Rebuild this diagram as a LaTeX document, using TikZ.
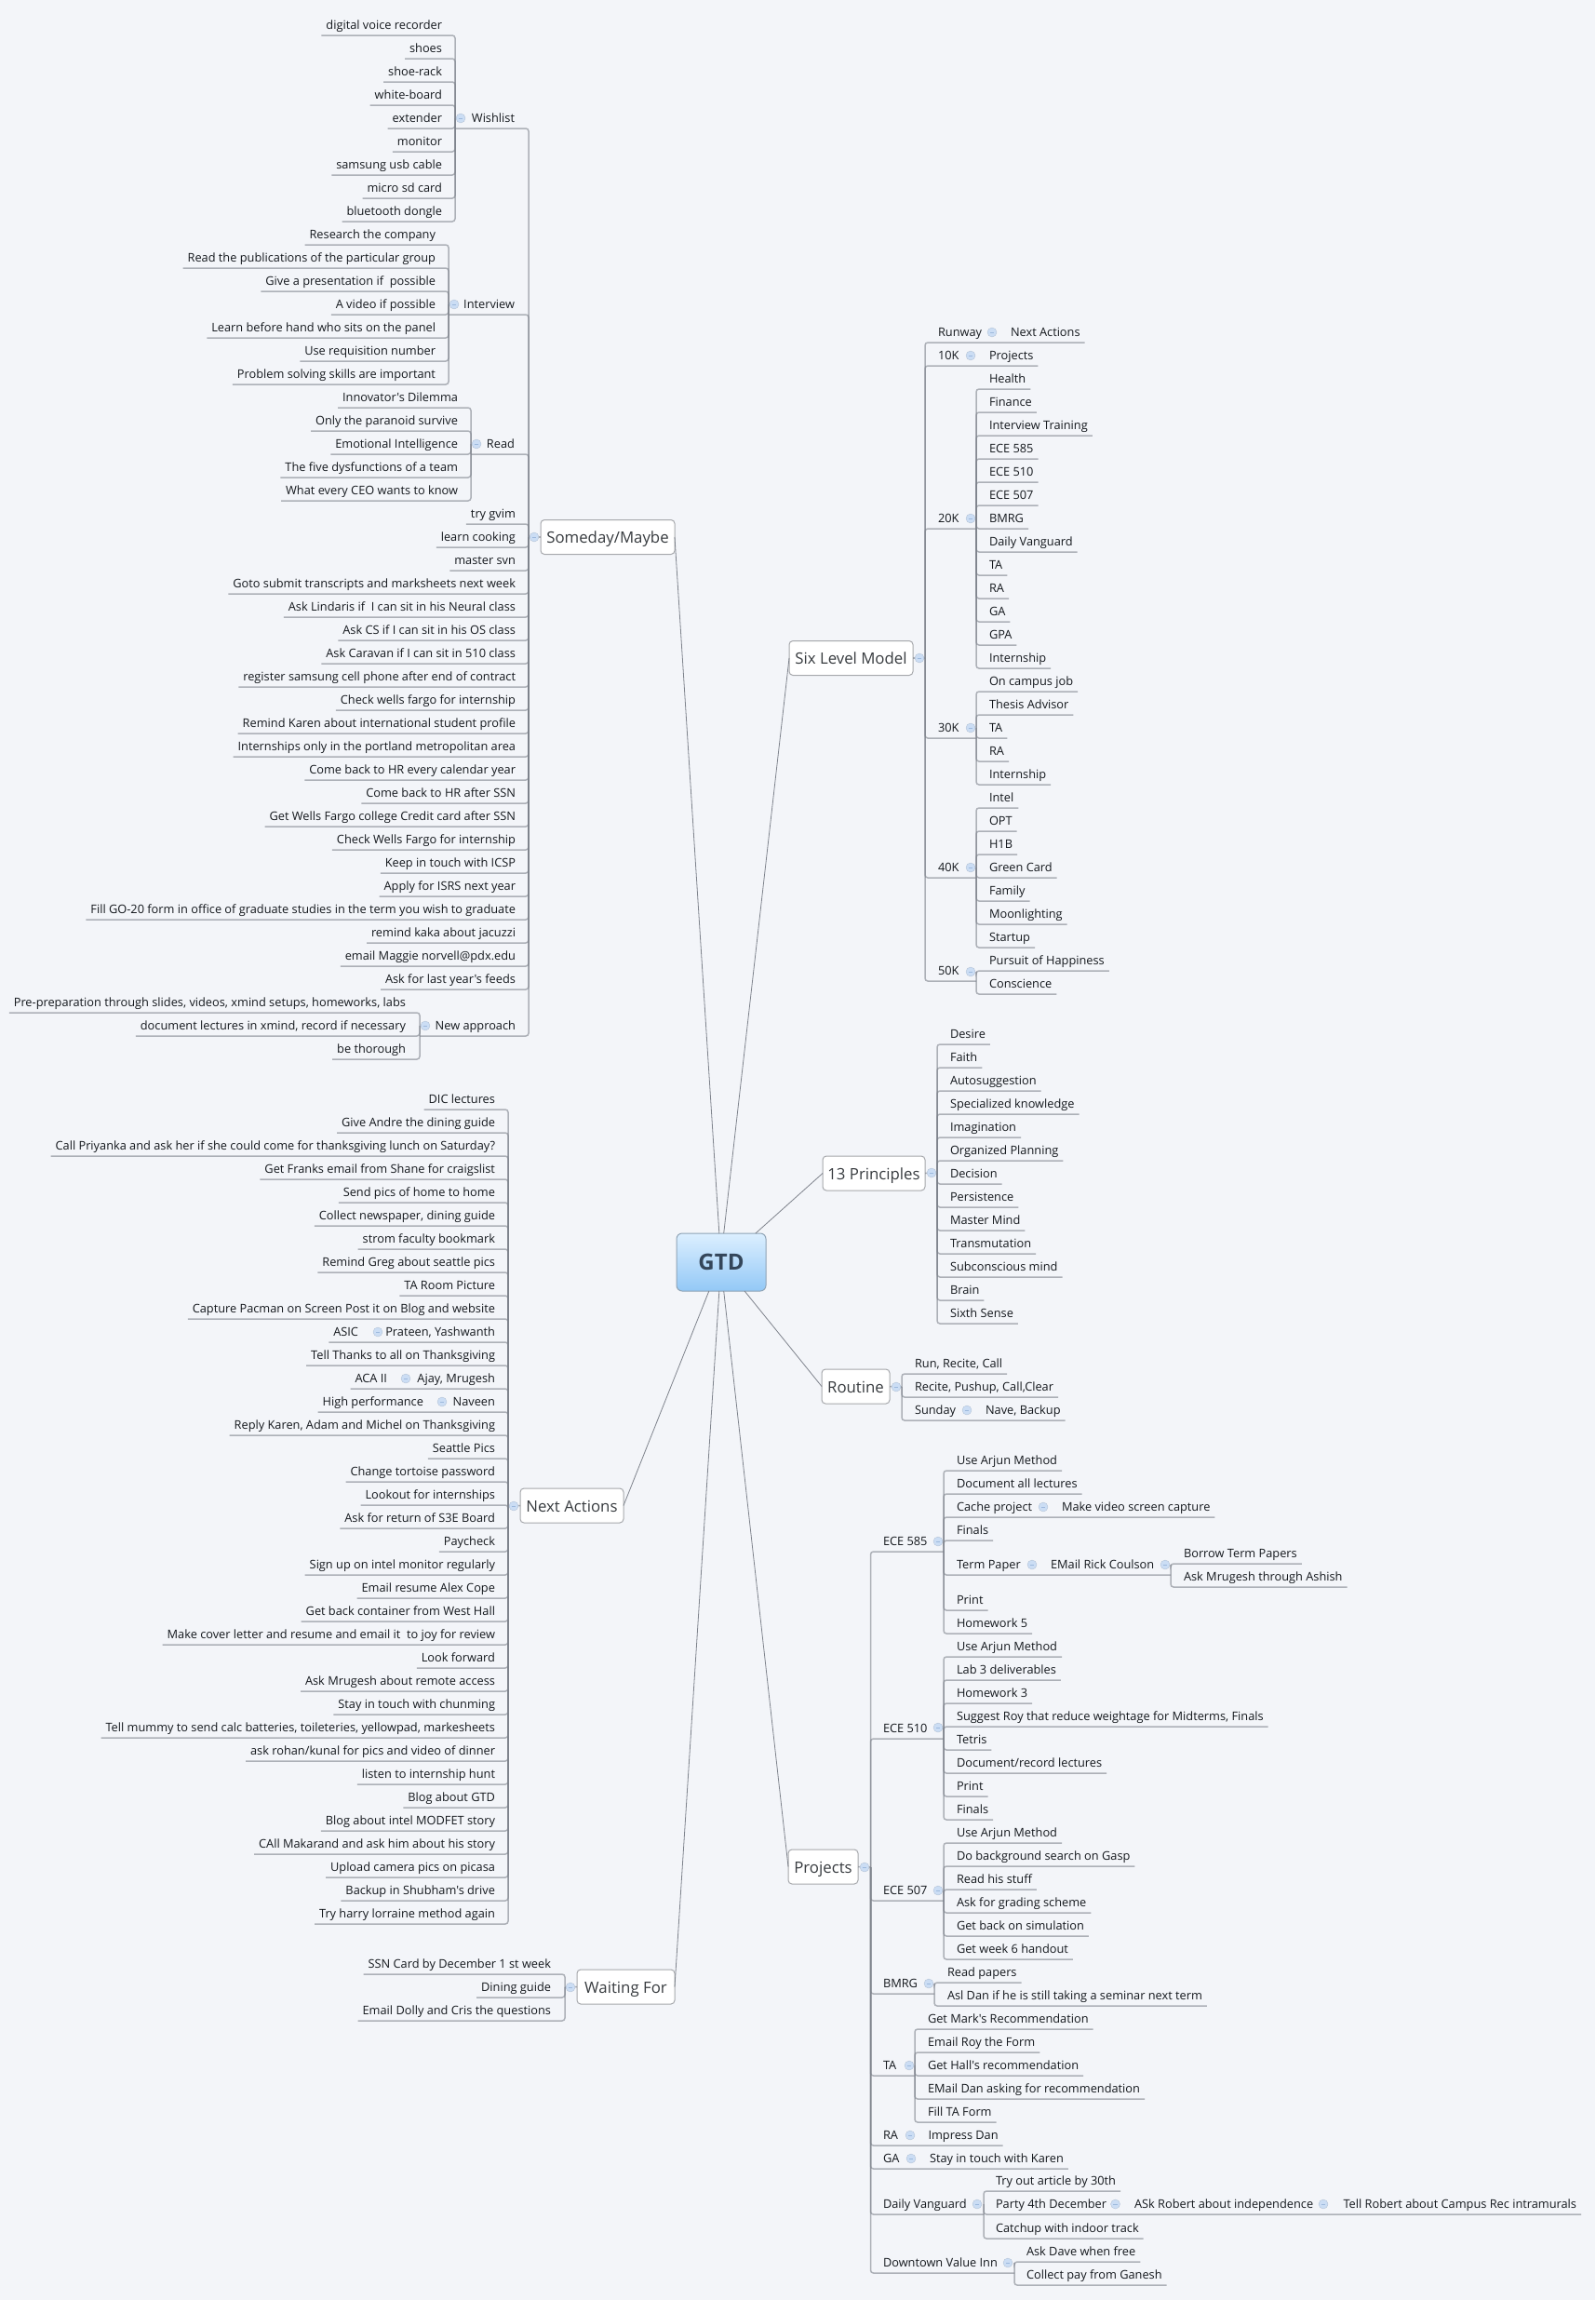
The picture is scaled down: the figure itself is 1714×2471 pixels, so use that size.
\documentclass[tikz,border=0pt]{standalone}
\usepackage{fontspec}
\newfontfamily\gtdfont{Open Sans}
\definecolor{paper}{HTML}{F3F5F9}
\definecolor{inktext}{HTML}{14181D}
\definecolor{linegray}{HTML}{7E838C}
\definecolor{boxgray}{HTML}{A6A8AC}
\definecolor{foldblue}{HTML}{CBDDF4}
\definecolor{foldbar}{HTML}{9DB9DD}
\definecolor{gtdtop}{HTML}{DCEFFF}
\definecolor{gtdbottom}{HTML}{93C8F6}
\definecolor{gtdtext}{HTML}{34465A}
\definecolor{gtdedge}{HTML}{8FA3B5}
\begin{document}
\begin{tikzpicture}[x=1pt, y=-1pt,
    leaf/.style={font=\gtdfont\fontsize{12.78}{14}\selectfont, text=inktext, inner xsep=5pt, inner ysep=4pt, text height=9.5pt, text depth=3pt, outer sep=0pt},
    leafe/.style={leaf, anchor=south east},
    leafw/.style={leaf, anchor=south west},
    branch/.style={draw=boxgray, line width=1pt, fill=white, rounded corners=4pt, inner sep=0pt, minimum height=37pt, text height=14pt, text depth=.4pt, outer sep=0pt, text=inktext!85!white, font=\gtdfont\fontsize{16.8}{20}\selectfont},
    link/.style={draw=linegray, line width=1.5pt, draw opacity=.6, rounded corners=3pt},
    trunk/.style={draw=linegray, line width=.8pt},
    fold/.style={circle, fill=foldblue, draw=foldblue!85!black, line width=.3pt, minimum size=10pt, inner sep=0pt, path picture={\draw[foldbar, line width=.8pt] (path picture bounding box.center) +(-2.4,0) -- +(2.4,0);}}]
    \useasboundingbox (0,0) rectangle (1714,2471);
    \fill[paper] (0,0) rectangle (1714,2471);

    % Central topic and main branches
    \node[draw=gtdedge, line width=1pt, rounded corners=6pt, top color=gtdtop, bottom color=gtdbottom, minimum width=96pt, minimum height=62pt, inner sep=0pt, outer sep=0pt, text=gtdtext, font=\gtdfont\bfseries\fontsize{24}{28}\selectfont] (gtd) at (775,1356) {GTD};
    \node[branch, minimum width=144pt] (sd) at (653,577) {Someday/Maybe};
    \node[branch, minimum width=133pt] (sl) at (914.5,707) {Six Level Model};
    \node[branch, minimum width=110pt] (pr) at (939,1260.5) {13 Principles};
    \node[branch, minimum width=73pt] (rt) at (919.5,1489.5) {Routine};
    \node[branch, minimum width=75pt] (pj) at (884.5,2005.5) {Projects};
    \node[branch, minimum width=111pt] (na) at (614.5,1617.5) {Next Actions};
    \node[branch, minimum width=105pt] (wf) at (672.5,2134.5) {Waiting For};
    \draw[trunk] (gtd.94) -- (sd.east);
    \draw[trunk] (gtd.85) -- (sl.west);
    \draw[trunk] (gtd.40) -- (pr.west);
    \draw[trunk] (gtd.-51) -- (rt.west);
    \draw[trunk] (gtd.-85) -- (pj.west);
    \draw[trunk] (gtd.-113) -- (na.east);
    \draw[trunk] (gtd.-94) -- (wf.east);

    % Someday/Maybe
    \coordinate (sdhub) at (568,577);
    \draw[link] (sd.west) -- (sdhub);
    \node[leafe] (wl) at (558,138) {Wishlist};
    \node[leafe] (iv) at (558,338) {Interview};
    \node[leafe] (rd) at (558,488) {Read};
    \node[leafe] (nw) at (559,1113) {New approach};
    \coordinate (wlhub) at (489,127);
    \coordinate (ivhub) at (482,327);
    \coordinate (rdhub) at (506,477);
    \coordinate (nwhub) at (451,1102);
    \draw[link] (sdhub) |- (wl.south east) -- (wl.south west -| wlhub);
    \draw[link] (sdhub) |- (iv.south east) -- (iv.south west -| ivhub);
    \draw[link] (sdhub) |- (rd.south east) -- (rd.south west -| rdhub);
    \draw[link] (sdhub) |- (nw.south east) -- (nw.south west -| nwhub);

    % Wishlist
    \node[leafe] (w1) at (480,38) {digital voice recorder};
    \node[leafe] (w2) at (480,63) {shoes};
    \node[leafe] (w3) at (480,88) {shoe-rack};
    \node[leafe] (w4) at (480,113) {white-board};
    \node[leafe] (w5) at (480,138) {extender};
    \node[leafe] (w6) at (480,163) {monitor};
    \node[leafe] (w7) at (480,188) {samsung usb cable};
    \node[leafe] (w8) at (480,213) {micro sd card};
    \node[leafe] (w9) at (480,238) {bluetooth dongle};
    \draw[link] (wlhub) |- (w1.south east) -- (w1.south west);
    \draw[link] (wlhub) |- (w2.south east) -- (w2.south west);
    \draw[link] (wlhub) |- (w3.south east) -- (w3.south west);
    \draw[link] (wlhub) |- (w4.south east) -- (w4.south west);
    \draw[link] (wlhub) |- (w5.south east) -- (w5.south west);
    \draw[link] (wlhub) |- (w6.south east) -- (w6.south west);
    \draw[link] (wlhub) |- (w7.south east) -- (w7.south west);
    \draw[link] (wlhub) |- (w8.south east) -- (w8.south west);
    \draw[link] (wlhub) |- (w9.south east) -- (w9.south west);
    \node[fold] (wlfold) at (495,127) {};

    % Interview
    \node[leafe] (i1) at (473,263) {Research the company};
    \node[leafe] (i2) at (473,288) {Read the publications of the particular group};
    \node[leafe] (i3) at (473,313) {Give a presentation if\ \ possible};
    \node[leafe] (i4) at (473,338) {A video if possible};
    \node[leafe] (i5) at (473,363) {Learn before hand who sits on the panel};
    \node[leafe] (i6) at (473,388) {Use requisition number};
    \node[leafe] (i7) at (473,413) {Problem solving skills are important};
    \draw[link] (ivhub) |- (i1.south east) -- (i1.south west);
    \draw[link] (ivhub) |- (i2.south east) -- (i2.south west);
    \draw[link] (ivhub) |- (i3.south east) -- (i3.south west);
    \draw[link] (ivhub) |- (i4.south east) -- (i4.south west);
    \draw[link] (ivhub) |- (i5.south east) -- (i5.south west);
    \draw[link] (ivhub) |- (i6.south east) -- (i6.south west);
    \draw[link] (ivhub) |- (i7.south east) -- (i7.south west);
    \node[fold] (ivfold) at (488,327) {};

    % Read
    \node[leafe] (r1) at (497,438) {Innovator's Dilemma};
    \node[leafe] (r2) at (497,463) {Only the paranoid survive};
    \node[leafe] (r3) at (497,488) {Emotional Intelligence};
    \node[leafe] (r4) at (497,513) {The five dysfunctions of a team};
    \node[leafe] (r5) at (497,538) {What every CEO wants to know};
    \draw[link] (rdhub) |- (r1.south east) -- (r1.south west);
    \draw[link] (rdhub) |- (r2.south east) -- (r2.south west);
    \draw[link] (rdhub) |- (r3.south east) -- (r3.south west);
    \draw[link] (rdhub) |- (r4.south east) -- (r4.south west);
    \draw[link] (rdhub) |- (r5.south east) -- (r5.south west);
    \node[fold] (rdfold) at (512,477) {};

    % Someday/Maybe, single items
    \node[leafe] (s1) at (559,563) {try gvim};
    \node[leafe] (s2) at (559,588) {learn cooking};
    \node[leafe] (s3) at (559,613) {master svn};
    \node[leafe] (s4) at (559,638) {Goto submit transcripts and marksheets next week};
    \node[leafe] (s5) at (559,663) {Ask Lindaris if\ \ I can sit in his Neural class};
    \node[leafe] (s6) at (559,688) {Ask CS if I can sit in his OS class};
    \node[leafe] (s7) at (559,713) {Ask Caravan if I can sit in 510 class};
    \node[leafe] (s8) at (559,738) {register samsung cell phone after end of contract};
    \node[leafe] (s9) at (559,763) {Check wells fargo for internship};
    \node[leafe] (s10) at (559,788) {Remind Karen about international student profile};
    \node[leafe] (s11) at (559,813) {Internships only in the portland metropolitan area};
    \node[leafe] (s12) at (559,838) {Come back to HR every calendar year};
    \node[leafe] (s13) at (559,863) {Come back to HR after SSN};
    \node[leafe] (s14) at (559,888) {Get Wells Fargo college Credit card after SSN};
    \node[leafe] (s15) at (559,913) {Check Wells Fargo for internship};
    \node[leafe] (s16) at (559,938) {Keep in touch with ICSP};
    \node[leafe] (s17) at (559,963) {Apply for ISRS next year};
    \node[leafe] (s18) at (559,988) {Fill GO-20 form in office of graduate studies in the term you wish to graduate};
    \node[leafe] (s19) at (559,1013) {remind kaka about jacuzzi};
    \node[leafe] (s20) at (559,1038) {email Maggie norvell@pdx.edu};
    \node[leafe] (s21) at (559,1063) {Ask for last year's feeds};
    \draw[link] (sdhub) |- (s1.south east) -- (s1.south west);
    \draw[link] (sdhub) |- (s2.south east) -- (s2.south west);
    \draw[link] (sdhub) |- (s3.south east) -- (s3.south west);
    \draw[link] (sdhub) |- (s4.south east) -- (s4.south west);
    \draw[link] (sdhub) |- (s5.south east) -- (s5.south west);
    \draw[link] (sdhub) |- (s6.south east) -- (s6.south west);
    \draw[link] (sdhub) |- (s7.south east) -- (s7.south west);
    \draw[link] (sdhub) |- (s8.south east) -- (s8.south west);
    \draw[link] (sdhub) |- (s9.south east) -- (s9.south west);
    \draw[link] (sdhub) |- (s10.south east) -- (s10.south west);
    \draw[link] (sdhub) |- (s11.south east) -- (s11.south west);
    \draw[link] (sdhub) |- (s12.south east) -- (s12.south west);
    \draw[link] (sdhub) |- (s13.south east) -- (s13.south west);
    \draw[link] (sdhub) |- (s14.south east) -- (s14.south west);
    \draw[link] (sdhub) |- (s15.south east) -- (s15.south west);
    \draw[link] (sdhub) |- (s16.south east) -- (s16.south west);
    \draw[link] (sdhub) |- (s17.south east) -- (s17.south west);
    \draw[link] (sdhub) |- (s18.south east) -- (s18.south west);
    \draw[link] (sdhub) |- (s19.south east) -- (s19.south west);
    \draw[link] (sdhub) |- (s20.south east) -- (s20.south west);
    \draw[link] (sdhub) |- (s21.south east) -- (s21.south west);
    \node[fold] (sdfold) at (574,577) {};

    % New approach
    \node[leafe] (n1) at (441,1088) {Pre-preparation through slides, videos, xmind setups, homeworks, labs};
    \node[leafe] (n2) at (441,1113) {document lectures in xmind, record if necessary};
    \node[leafe] (n3) at (441,1138) {be thorough};
    \draw[link] (nwhub) |- (n1.south east) -- (n1.south west);
    \draw[link] (nwhub) |- (n2.south east) -- (n2.south west);
    \draw[link] (nwhub) |- (n3.south east) -- (n3.south west);
    \node[fold] (nwfold) at (457,1102) {};

    % Six Level Model
    \coordinate (slhub) at (994,707);
    \draw[link] (sl.east) -- (slhub);
    \node[leafw] (rw) at (1003,368) {Runway};
    \node[leafw] (rwn) at (1081,368) {Next Actions};
    \node[leafw] (k10) at (1003,393) {10K};
    \node[leafw] (k10p) at (1058,393) {Projects};
    \node[leafw] (k20) at (1003,568) {20K};
    \node[leafw] (k30) at (1003,793) {30K};
    \node[leafw] (k40) at (1003,943) {40K};
    \node[leafw] (k50) at (1003,1054) {50K};
    \coordinate (k20hub) at (1049,557);
    \coordinate (k30hub) at (1049,782);
    \coordinate (k40hub) at (1049,932);
    \coordinate (k50hub) at (1049,1044);
    \draw[link] (slhub) |- (rw.south west) -- (rw.south east) -- (rwn.south west) -- (rwn.south east);
    \draw[link] (slhub) |- (k10.south west) -- (k10.south east) -- (k10p.south west) -- (k10p.south east);
    \draw[link] (slhub) |- (k20.south west) -- (k20.south east -| k20hub);
    \draw[link] (slhub) |- (k30.south west) -- (k30.south east -| k30hub);
    \draw[link] (slhub) |- (k40.south west) -- (k40.south east -| k40hub);
    \draw[link] (slhub) |- (k50.south west) -- (k50.south east -| k50hub);
    \node[fold] (slfold) at (988,707) {};
    \node[fold] (rwfold) at (1066,357) {};
    \node[fold] (k10fold) at (1043,382) {};

    % 20K
    \node[leafw] (a1) at (1058,418) {Health};
    \node[leafw] (a2) at (1058,443) {Finance};
    \node[leafw] (a3) at (1058,468) {Interview Training};
    \node[leafw] (a4) at (1058,493) {ECE 585};
    \node[leafw] (a5) at (1058,518) {ECE 510};
    \node[leafw] (a6) at (1058,543) {ECE 507};
    \node[leafw] (a7) at (1058,568) {BMRG};
    \node[leafw] (a8) at (1058,593) {Daily Vanguard};
    \node[leafw] (a9) at (1058,618) {TA};
    \node[leafw] (a10) at (1058,643) {RA};
    \node[leafw] (a11) at (1058,668) {GA};
    \node[leafw] (a12) at (1058,693) {GPA};
    \node[leafw] (a13) at (1058,718) {Internship};
    \draw[link] (k20hub) |- (a1.south west) -- (a1.south east);
    \draw[link] (k20hub) |- (a2.south west) -- (a2.south east);
    \draw[link] (k20hub) |- (a3.south west) -- (a3.south east);
    \draw[link] (k20hub) |- (a4.south west) -- (a4.south east);
    \draw[link] (k20hub) |- (a5.south west) -- (a5.south east);
    \draw[link] (k20hub) |- (a6.south west) -- (a6.south east);
    \draw[link] (k20hub) |- (a7.south west) -- (a7.south east);
    \draw[link] (k20hub) |- (a8.south west) -- (a8.south east);
    \draw[link] (k20hub) |- (a9.south west) -- (a9.south east);
    \draw[link] (k20hub) |- (a10.south west) -- (a10.south east);
    \draw[link] (k20hub) |- (a11.south west) -- (a11.south east);
    \draw[link] (k20hub) |- (a12.south west) -- (a12.south east);
    \draw[link] (k20hub) |- (a13.south west) -- (a13.south east);
    \node[fold] (k20fold) at (1043,557) {};

    % 30K
    \node[leafw] (b1) at (1058,743) {On campus job};
    \node[leafw] (b2) at (1058,768) {Thesis Advisor};
    \node[leafw] (b3) at (1058,793) {TA};
    \node[leafw] (b4) at (1058,818) {RA};
    \node[leafw] (b5) at (1058,843) {Internship};
    \draw[link] (k30hub) |- (b1.south west) -- (b1.south east);
    \draw[link] (k30hub) |- (b2.south west) -- (b2.south east);
    \draw[link] (k30hub) |- (b3.south west) -- (b3.south east);
    \draw[link] (k30hub) |- (b4.south west) -- (b4.south east);
    \draw[link] (k30hub) |- (b5.south west) -- (b5.south east);
    \node[fold] (k30fold) at (1043,782) {};

    % 40K
    \node[leafw] (c1) at (1058,868) {Intel};
    \node[leafw] (c2) at (1058,893) {OPT};
    \node[leafw] (c3) at (1058,918) {H1B};
    \node[leafw] (c4) at (1058,943) {Green Card};
    \node[leafw] (c5) at (1058,968) {Family};
    \node[leafw] (c6) at (1058,993) {Moonlighting};
    \node[leafw] (c7) at (1058,1018) {Startup};
    \draw[link] (k40hub) |- (c1.south west) -- (c1.south east);
    \draw[link] (k40hub) |- (c2.south west) -- (c2.south east);
    \draw[link] (k40hub) |- (c3.south west) -- (c3.south east);
    \draw[link] (k40hub) |- (c4.south west) -- (c4.south east);
    \draw[link] (k40hub) |- (c5.south west) -- (c5.south east);
    \draw[link] (k40hub) |- (c6.south west) -- (c6.south east);
    \draw[link] (k40hub) |- (c7.south west) -- (c7.south east);
    \node[fold] (k40fold) at (1043,932) {};

    % 50K
    \node[leafw] (d1) at (1058,1043) {Pursuit of Happiness};
    \node[leafw] (d2) at (1058,1068) {Conscience};
    \draw[link] (k50hub) |- (d1.south west) -- (d1.south east);
    \draw[link] (k50hub) |- (d2.south west) -- (d2.south east);
    \node[fold] (k50fold) at (1043,1044) {};

    % 13 Principles
    \coordinate (prhub) at (1007,1260);
    \draw[link] (pr.east) -- (prhub);
    \node[leafw] (p1) at (1016,1122) {Desire};
    \node[leafw] (p2) at (1016,1147) {Faith};
    \node[leafw] (p3) at (1016,1172) {Autosuggestion};
    \node[leafw] (p4) at (1016,1197) {Specialized knowledge};
    \node[leafw] (p5) at (1016,1222) {Imagination};
    \node[leafw] (p6) at (1016,1247) {Organized Planning};
    \node[leafw] (p7) at (1016,1272) {Decision};
    \node[leafw] (p8) at (1016,1297) {Persistence};
    \node[leafw] (p9) at (1016,1322) {Master Mind};
    \node[leafw] (p10) at (1016,1347) {Transmutation};
    \node[leafw] (p11) at (1016,1372) {Subconscious mind};
    \node[leafw] (p12) at (1016,1397) {Brain};
    \node[leafw] (p13) at (1016,1422) {Sixth Sense};
    \draw[link] (prhub) |- (p1.south west) -- (p1.south east);
    \draw[link] (prhub) |- (p2.south west) -- (p2.south east);
    \draw[link] (prhub) |- (p3.south west) -- (p3.south east);
    \draw[link] (prhub) |- (p4.south west) -- (p4.south east);
    \draw[link] (prhub) |- (p5.south west) -- (p5.south east);
    \draw[link] (prhub) |- (p6.south west) -- (p6.south east);
    \draw[link] (prhub) |- (p7.south west) -- (p7.south east);
    \draw[link] (prhub) |- (p8.south west) -- (p8.south east);
    \draw[link] (prhub) |- (p9.south west) -- (p9.south east);
    \draw[link] (prhub) |- (p10.south west) -- (p10.south east);
    \draw[link] (prhub) |- (p11.south west) -- (p11.south east);
    \draw[link] (prhub) |- (p12.south west) -- (p12.south east);
    \draw[link] (prhub) |- (p13.south west) -- (p13.south east);
    \node[fold] (prfold) at (1001,1260) {};

    % Routine
    \coordinate (rthub) at (969,1490);
    \draw[link] (rt.east) -- (rthub);
    \node[leafw] (t1) at (978,1476) {Run, Recite, Call};
    \node[leafw] (t2) at (978,1501) {Recite, Pushup, Call,Clear};
    \node[leafw] (t3) at (978,1526) {Sunday};
    \node[leafw] (t4) at (1054,1526) {Nave, Backup};
    \draw[link] (rthub) |- (t1.south west) -- (t1.south east);
    \draw[link] (rthub) |- (t2.south west) -- (t2.south east);
    \draw[link] (rthub) |- (t3.south west) -- (t3.south east) -- (t4.south west) -- (t4.south east);
    \node[fold] (rtfold) at (963,1490) {};
    \node[fold] (t3fold) at (1039,1515) {};

    % Projects
    \coordinate (pjhub) at (935.5,2006);
    \draw[link] (pj.east) -- (pjhub);
    \node[leafw] (e5) at (944,1667) {ECE 585};
    \node[leafw] (e1) at (944,1868) {ECE 510};
    \node[leafw] (e7) at (944,2042) {ECE 507};
    \node[leafw] (bm) at (944,2142) {BMRG};
    \node[leafw] (ta) at (944,2230) {TA};
    \node[leafw] (ra) at (944,2305) {RA};
    \node[leafw] (rai) at (992.5,2305) {Impress Dan};
    \node[leafw] (ga) at (944,2330) {GA};
    \node[leafw] (gas) at (994,2330) {Stay in touch with Karen};
    \node[leafw] (dv) at (944,2379) {Daily Vanguard};
    \node[leafw] (dn) at (944,2442) {Downtown Value Inn};
    \coordinate (e5hub) at (1014,1656);
    \coordinate (e1hub) at (1014,1856);
    \coordinate (e7hub) at (1014,2031);
    \coordinate (bmhub) at (1004,2131);
    \coordinate (tahub) at (983,2219);
    \coordinate (dvhub) at (1057,2368);
    \coordinate (dnhub) at (1090,2431);
    \draw[link] (pjhub) |- (e5.south west) -- (e5.south east -| e5hub);
    \draw[link] (pjhub) |- (e1.south west) -- (e1.south east -| e1hub);
    \draw[link] (pjhub) |- (e7.south west) -- (e7.south east -| e7hub);
    \draw[link] (pjhub) |- (bm.south west) -- (bm.south east -| bmhub);
    \draw[link] (pjhub) |- (ta.south west) -- (ta.south east -| tahub);
    \draw[link] (pjhub) |- (ra.south west) -- (ra.south east) -- (rai.south west) -- (rai.south east);
    \draw[link] (pjhub) |- (ga.south west) -- (ga.south east) -- (gas.south west) -- (gas.south east);
    \draw[link] (pjhub) |- (dv.south west) -- (dv.south east -| dvhub);
    \draw[link] (pjhub) |- (dn.south west) -- (dn.south east -| dnhub);
    \node[fold] (pjfold) at (929,2006) {};
    \node[fold] (rafold) at (978,2294) {};
    \node[fold] (gafold) at (979,2319) {};

    % ECE 585
    \node[leafw] (f1) at (1023,1580) {Use Arjun Method};
    \node[leafw] (f2) at (1023,1605) {Document all lectures};
    \node[leafw] (f3) at (1023,1630) {Cache project};
    \node[leafw] (f3a) at (1136,1630) {Make video screen capture};
    \node[leafw] (f4) at (1023,1655) {Finals};
    \node[leafw] (f5) at (1023,1692) {Term Paper};
    \node[leafw] (f5a) at (1124,1692) {EMail Rick Coulson};
    \node[leafw] (f6) at (1023,1730) {Print};
    \node[leafw] (f7) at (1023,1755) {Homework 5};
    \coordinate (rkhub) at (1258,1681);
    \node[leafw] (rk1) at (1267,1680) {Borrow Term Papers};
    \node[leafw] (rk2) at (1267,1705) {Ask Mrugesh through Ashish};
    \draw[link] (e5hub) |- (f1.south west) -- (f1.south east);
    \draw[link] (e5hub) |- (f2.south west) -- (f2.south east);
    \draw[link] (e5hub) |- (f3.south west) -- (f3.south east) -- (f3a.south west) -- (f3a.south east);
    \draw[link] (e5hub) |- (f4.south west) -- (f4.south east);
    \draw[link] (e5hub) |- (f5.south west) -- (f5.south east) -- (f5a.south west) -- (f5a.south east -| rkhub);
    \draw[link] (e5hub) |- (f6.south west) -- (f6.south east);
    \draw[link] (e5hub) |- (f7.south west) -- (f7.south east);
    \draw[link] (rkhub) |- (rk1.south west) -- (rk1.south east);
    \draw[link] (rkhub) |- (rk2.south west) -- (rk2.south east);
    \node[fold] (e5fold) at (1008,1656) {};
    \node[fold] (f3fold) at (1121,1619) {};
    \node[fold] (f5fold) at (1109,1681) {};
    \node[fold] (rkfold) at (1252,1681) {};

    % ECE 510
    \node[leafw] (g1) at (1023,1780) {Use Arjun Method};
    \node[leafw] (g2) at (1023,1805) {Lab 3 deliverables};
    \node[leafw] (g3) at (1023,1830) {Homework 3};
    \node[leafw] (g4) at (1023,1855) {Suggest Roy that reduce weightage for Midterms, Finals};
    \node[leafw] (g5) at (1023,1880) {Tetris};
    \node[leafw] (g6) at (1023,1905) {Document/record lectures};
    \node[leafw] (g7) at (1023,1930) {Print};
    \node[leafw] (g8) at (1023,1955) {Finals};
    \draw[link] (e1hub) |- (g1.south west) -- (g1.south east);
    \draw[link] (e1hub) |- (g2.south west) -- (g2.south east);
    \draw[link] (e1hub) |- (g3.south west) -- (g3.south east);
    \draw[link] (e1hub) |- (g4.south west) -- (g4.south east);
    \draw[link] (e1hub) |- (g5.south west) -- (g5.south east);
    \draw[link] (e1hub) |- (g6.south west) -- (g6.south east);
    \draw[link] (e1hub) |- (g7.south west) -- (g7.south east);
    \draw[link] (e1hub) |- (g8.south west) -- (g8.south east);
    \node[fold] (e1fold) at (1008,1856) {};

    % ECE 507
    \node[leafw] (h1) at (1023,1980) {Use Arjun Method};
    \node[leafw] (h2) at (1023,2005) {Do background search on Gasp};
    \node[leafw] (h3) at (1023,2030) {Read his stuff};
    \node[leafw] (h4) at (1023,2055) {Ask for grading scheme};
    \node[leafw] (h5) at (1023,2080) {Get back on simulation};
    \node[leafw] (h6) at (1023,2105) {Get week 6 handout};
    \draw[link] (e7hub) |- (h1.south west) -- (h1.south east);
    \draw[link] (e7hub) |- (h2.south west) -- (h2.south east);
    \draw[link] (e7hub) |- (h3.south west) -- (h3.south east);
    \draw[link] (e7hub) |- (h4.south west) -- (h4.south east);
    \draw[link] (e7hub) |- (h5.south west) -- (h5.south east);
    \draw[link] (e7hub) |- (h6.south west) -- (h6.south east);
    \node[fold] (e7fold) at (1008,2031) {};

    % BMRG
    \node[leafw] (m1) at (1013,2130) {Read papers};
    \node[leafw] (m2) at (1013,2155) {Asl Dan if he is still taking a seminar next term};
    \draw[link] (bmhub) |- (m1.south west) -- (m1.south east);
    \draw[link] (bmhub) |- (m2.south west) -- (m2.south east);
    \node[fold] (bmfold) at (998,2131) {};

    % TA
    \node[leafw] (q1) at (992,2180) {Get Mark's Recommendation};
    \node[leafw] (q2) at (992,2205) {Email Roy the Form};
    \node[leafw] (q3) at (992,2230) {Get Hall's recommendation};
    \node[leafw] (q4) at (992,2255) {EMail Dan asking for recommendation};
    \node[leafw] (q5) at (992,2280) {Fill TA Form};
    \draw[link] (tahub) |- (q1.south west) -- (q1.south east);
    \draw[link] (tahub) |- (q2.south west) -- (q2.south east);
    \draw[link] (tahub) |- (q3.south west) -- (q3.south east);
    \draw[link] (tahub) |- (q4.south west) -- (q4.south east);
    \draw[link] (tahub) |- (q5.south west) -- (q5.south east);
    \node[fold] (tafold) at (977,2219) {};

    % Daily Vanguard
    \node[leafw] (v1) at (1065,2354) {Try out article by 30th};
    \node[leafw] (v2) at (1065,2379) {Party 4th December};
    \node[leafw] (v2a) at (1214,2379) {ASk Robert about independence};
    \node[leafw] (v2b) at (1438.5,2379) {Tell Robert about Campus Rec intramurals};
    \node[leafw] (v3) at (1065,2405) {Catchup with indoor track};
    \draw[link] (dvhub) |- (v1.south west) -- (v1.south east);
    \draw[link] (dvhub) |- (v2.south west) -- (v2.south east) -- (v2a.south west) -- (v2a.south east) -- (v2b.south west) -- (v2b.south east);
    \draw[link] (dvhub) |- (v3.south west) -- (v3.south east);
    \node[fold] (dvfold) at (1050,2368) {};
    \node[fold] (v2fold) at (1198.5,2368) {};
    \node[fold] (v2afold) at (1422,2368) {};

    % Downtown Value Inn
    \node[leafw] (x1) at (1098,2430) {Ask Dave when free};
    \node[leafw] (x2) at (1098,2455) {Collect pay from Ganesh};
    \draw[link] (dnhub) |- (x1.south west) -- (x1.south east);
    \draw[link] (dnhub) |- (x2.south west) -- (x2.south east);
    \node[fold] (dnfold) at (1083,2431) {};

    % Next Actions
    \coordinate (nahub) at (546,1618);
    \draw[link] (na.west) -- (nahub);
    \node[leafe] (y1) at (537,1192) {DIC lectures};
    \node[leafe] (y2) at (537,1217) {Give Andre the dining guide};
    \node[leafe] (y3) at (537,1242) {Call Priyanka and ask her if she could come for thanksgiving lunch on Saturday?};
    \node[leafe] (y4) at (537,1267) {Get Franks email from Shane for craigslist};
    \node[leafe] (y5) at (537,1292) {Send pics of home to home};
    \node[leafe] (y6) at (537,1317) {Collect newspaper, dining guide};
    \node[leafe] (y7) at (537,1342) {strom faculty bookmark};
    \node[leafe] (y8) at (537,1367) {Remind Greg about seattle pics};
    \node[leafe] (y9) at (537,1392) {TA Room Picture};
    \node[leafe] (y10) at (537,1417) {Capture Pacman on Screen Post it on Blog and website};
    \node[leafe] (y11) at (537,1442) {Prateen, Yashwanth};
    \node[leafe] (y11a) at (390,1442) {ASIC};
    \node[leafe] (y12) at (537,1467) {Tell Thanks to all on Thanksgiving};
    \node[leafe] (y13) at (537,1492) {Ajay, Mrugesh};
    \node[leafe] (y13a) at (421,1492) {ACA II};
    \node[leafe] (y14) at (537,1517) {Naveen};
    \node[leafe] (y14a) at (460,1517) {High performance};
    \node[leafe] (y15) at (537,1542) {Reply Karen, Adam and Michel on Thanksgiving};
    \node[leafe] (y16) at (537,1567) {Seattle Pics};
    \node[leafe] (y17) at (537,1592) {Change tortoise password};
    \node[leafe] (y18) at (537,1617) {Lookout for internships};
    \node[leafe] (y19) at (537,1642) {Ask for return of S3E Board};
    \node[leafe] (y20) at (537,1667) {Paycheck};
    \node[leafe] (y21) at (537,1692) {Sign up on intel monitor regularly};
    \node[leafe] (y22) at (537,1717) {Email resume Alex Cope};
    \node[leafe] (y23) at (537,1742) {Get back container from West Hall};
    \node[leafe] (y24) at (537,1767) {Make cover letter and resume and email it\ \ to joy for review};
    \node[leafe] (y25) at (537,1792) {Look forward};
    \node[leafe] (y26) at (537,1817) {Ask Mrugesh about remote access};
    \node[leafe] (y27) at (537,1842) {Stay in touch with chunming};
    \node[leafe] (y28) at (537,1867) {Tell mummy to send calc batteries, toileteries, yellowpad, markesheets};
    \node[leafe] (y29) at (537,1892) {ask rohan/kunal for pics and video of dinner};
    \node[leafe] (y30) at (537,1917) {listen to internship hunt};
    \node[leafe] (y31) at (537,1942) {Blog about GTD};
    \node[leafe] (y32) at (537,1967) {Blog about intel MODFET story};
    \node[leafe] (y33) at (537,1992) {CAll Makarand and ask him about his story};
    \node[leafe] (y34) at (537,2017) {Upload camera pics on picasa};
    \node[leafe] (y35) at (537,2042) {Backup in Shubham's drive};
    \node[leafe] (y36) at (537,2067) {Try harry lorraine method again};
    \draw[link] (nahub) |- (y1.south east) -- (y1.south west);
    \draw[link] (nahub) |- (y2.south east) -- (y2.south west);
    \draw[link] (nahub) |- (y3.south east) -- (y3.south west);
    \draw[link] (nahub) |- (y4.south east) -- (y4.south west);
    \draw[link] (nahub) |- (y5.south east) -- (y5.south west);
    \draw[link] (nahub) |- (y6.south east) -- (y6.south west);
    \draw[link] (nahub) |- (y7.south east) -- (y7.south west);
    \draw[link] (nahub) |- (y8.south east) -- (y8.south west);
    \draw[link] (nahub) |- (y9.south east) -- (y9.south west);
    \draw[link] (nahub) |- (y10.south east) -- (y10.south west);
    \draw[link] (nahub) |- (y11.south east) -- (y11.south west) -- (y11a.south east) -- (y11a.south west);
    \draw[link] (nahub) |- (y12.south east) -- (y12.south west);
    \draw[link] (nahub) |- (y13.south east) -- (y13.south west) -- (y13a.south east) -- (y13a.south west);
    \draw[link] (nahub) |- (y14.south east) -- (y14.south west) -- (y14a.south east) -- (y14a.south west);
    \draw[link] (nahub) |- (y15.south east) -- (y15.south west);
    \draw[link] (nahub) |- (y16.south east) -- (y16.south west);
    \draw[link] (nahub) |- (y17.south east) -- (y17.south west);
    \draw[link] (nahub) |- (y18.south east) -- (y18.south west);
    \draw[link] (nahub) |- (y19.south east) -- (y19.south west);
    \draw[link] (nahub) |- (y20.south east) -- (y20.south west);
    \draw[link] (nahub) |- (y21.south east) -- (y21.south west);
    \draw[link] (nahub) |- (y22.south east) -- (y22.south west);
    \draw[link] (nahub) |- (y23.south east) -- (y23.south west);
    \draw[link] (nahub) |- (y24.south east) -- (y24.south west);
    \draw[link] (nahub) |- (y25.south east) -- (y25.south west);
    \draw[link] (nahub) |- (y26.south east) -- (y26.south west);
    \draw[link] (nahub) |- (y27.south east) -- (y27.south west);
    \draw[link] (nahub) |- (y28.south east) -- (y28.south west);
    \draw[link] (nahub) |- (y29.south east) -- (y29.south west);
    \draw[link] (nahub) |- (y30.south east) -- (y30.south west);
    \draw[link] (nahub) |- (y31.south east) -- (y31.south west);
    \draw[link] (nahub) |- (y32.south east) -- (y32.south west);
    \draw[link] (nahub) |- (y33.south east) -- (y33.south west);
    \draw[link] (nahub) |- (y34.south east) -- (y34.south west);
    \draw[link] (nahub) |- (y35.south east) -- (y35.south west);
    \draw[link] (nahub) |- (y36.south east) -- (y36.south west);
    \node[fold] (nafold) at (552,1618) {};
    \node[fold] (y11fold) at (406,1431) {};
    \node[fold] (y13fold) at (436,1481) {};
    \node[fold] (y14fold) at (475,1506) {};

    % Waiting For
    \coordinate (wfhub) at (607,2135);
    \draw[link] (wf.west) -- (wfhub);
    \node[leafe] (z1) at (597,2121) {SSN Card by December 1 st week};
    \node[leafe] (z2) at (597,2146) {Dining guide};
    \node[leafe] (z3) at (597,2171) {Email Dolly and Cris the questions};
    \draw[link] (wfhub) |- (z1.south east) -- (z1.south west);
    \draw[link] (wfhub) |- (z2.south east) -- (z2.south west);
    \draw[link] (wfhub) |- (z3.south east) -- (z3.south west);
    \node[fold] (wffold) at (613,2135) {};
\end{tikzpicture}
\end{document}
